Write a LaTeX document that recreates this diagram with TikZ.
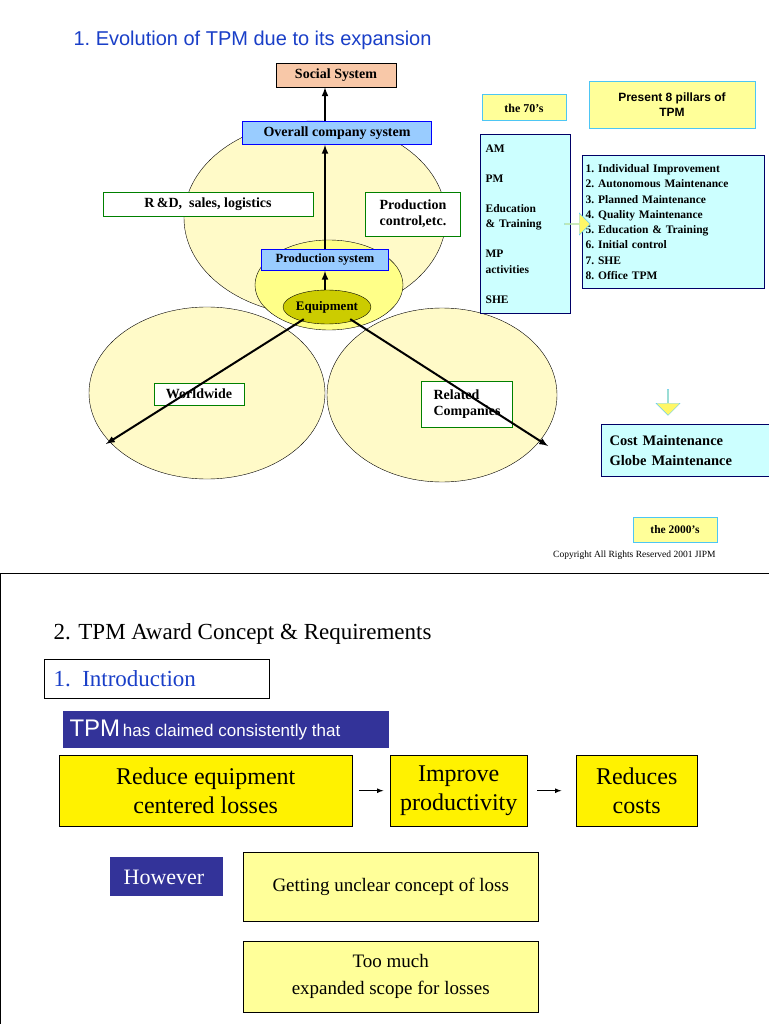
\documentclass[tikz,border=0pt]{standalone}
\usepackage{fontspec}
\setmainfont{Liberation Serif}
\newfontfamily\arialf{Liberation Sans}
\usetikzlibrary{shapes.arrows,shapes.geometric}
\definecolor{salmon}{HTML}{F8C8A8}
\definecolor{lyel}{HTML}{FFFAC8}
\definecolor{myel}{HTML}{FFFF88}
\definecolor{olive}{HTML}{CCCC00}
\definecolor{lblue}{HTML}{99CCFF}
\definecolor{lcyan}{HTML}{CCFFFF}
\definecolor{navy}{HTML}{333399}
\definecolor{dnavy}{HTML}{000066}
\definecolor{tblue}{HTML}{1A3FC8}
\definecolor{pyel}{HTML}{FFFF99}
\tikzset{
  lbl/.style={draw=#1, line width=0.8pt, font=\bfseries\fontsize{14}{16}\selectfont, align=center, inner sep=2pt},
  band/.style={fill=navy, text=white, inner sep=0pt, anchor=north west},
  ybox/.style={draw=black, fill=yellow, align=center, font=\fontsize{24}{29}\selectfont, inner sep=0pt, anchor=north west},
  pbox/.style={draw=black, fill=pyel, align=center, font=\fontsize{19}{26}\selectfont, inner sep=0pt, anchor=north west},
  fat/.style={single arrow, draw=cyan!60, fill=yellow!60, single arrow head extend=4pt, inner sep=0pt}
}
\begin{document}
\begin{tikzpicture}[x=1pt,y=-1pt]
  \useasboundingbox (0,0) rectangle (768,1024);
  \fill[white] (0,0) rectangle (768,1024);

  % upper slide
  \node[anchor=west, text=tblue, font=\arialf\fontsize{20}{24}\selectfont] (title1) at (70,40) {1.\ Evolution of TPM due to its expansion};

  \filldraw[fill=lyel, draw=black] (315,218) ellipse [x radius=131, y radius=97];
  \filldraw[fill=lyel, draw=black] (207,393) ellipse [x radius=118, y radius=86];
  \filldraw[fill=lyel, draw=black] (442,395) ellipse [x radius=115, y radius=87];
  \filldraw[fill=myel, draw=black] (329,285) ellipse [x radius=74, y radius=45];
  \node[ellipse, draw=black, fill=olive, minimum width=76pt, minimum height=34pt, inner sep=0pt, font=\bfseries\fontsize{13}{15}\selectfont] (equip) at (327,307) {Equipment};

  \node[lbl=black, fill=salmon, minimum width=120pt, minimum height=24pt] (social) at (336,75) {Social System};
  \node[lbl=blue, fill=lblue, minimum width=189pt, minimum height=23pt] (overall) at (337,133) {Overall company system};
  \node[lbl=blue, fill=lblue, minimum width=127pt, minimum height=21pt, font=\bfseries\fontsize{12.5}{15}\selectfont] (prodsys) at (325,260) {Production system};
  \node[lbl=green!50!black, fill=white, minimum width=210pt, minimum height=24pt] (rnd) at (208,204) {R\,\&D,\ \ sales, logistics};
  \node[lbl=green!50!black, fill=white, minimum width=95pt, minimum height=44pt] (prodctl) at (413,214) {Production\\control,etc.};
  \node[lbl=green!50!black, fill=white, minimum width=90pt, minimum height=22pt] (world) at (199,394) {Worldwide};
  \node[lbl=green!50!black, fill=white, minimum width=91pt, minimum height=46pt, align=left] (related) at (467,404) {Related\\Companies};

  \draw[-latex, line width=2pt] (prodsys.north |- overall.north) -- (prodsys.north |- social.south);
  \draw[-latex, line width=2pt] (prodsys.north) -- (prodsys.north |- overall.south);
  \draw[-latex, line width=2pt] (prodsys.south |- equip.north) -- (prodsys.south);
  \coordinate (wend) at (106,444);
  \coordinate (rend) at (548,446);
  \draw[-latex, line width=2pt] (equip.south west) ++(8,0) -- (wend);
  \draw[-latex, line width=2pt] (equip.south east) ++(-8,0) -- (rend);

  \node[draw=cyan!70, line width=1pt, fill=pyel, minimum width=84pt, minimum height=26pt, font=\bfseries\fontsize{12}{14}\selectfont] (seventies) at (524,108) {the 70's};
  \node[draw=cyan!70, line width=1pt, fill=pyel, minimum width=166pt, minimum height=47pt, align=center, font=\bfseries\arialf\fontsize{12}{15}\selectfont] (present) at (672,105) {Present 8 pillars of\\TPM};
  \node[draw=dnavy, line width=1.2pt, fill=lcyan, minimum width=90pt, minimum height=179pt, anchor=north west, align=left, text width=80pt, inner sep=5pt, font=\bfseries\fontsize{11.5}{15.5}\selectfont] (old) at (480,134)
    {AM\\[14.5pt]PM\\[14.5pt]Education\\\& Training\\[14.5pt]MP\\activities\\[14.5pt]SHE};
  \node[draw=dnavy, line width=1.2pt, fill=lcyan, minimum width=182pt, minimum height=133pt, anchor=north west, align=left, text width=176pt, inner sep=3pt, font=\bfseries\fontsize{11.5}{15.3}\selectfont] (pillars) at (582,155)
    {1.~Individual Improvement\\2.~Autonomous Maintenance\\3.~Planned Maintenance\\4.~Quality Maintenance\\5.~Education \& Training\\6.~Initial control\\7.~SHE\\8.~Office TPM};
  \node[fat, minimum height=26pt, minimum width=22pt] (arr1) at (577,224) {};
  \node[fat, rotate=-90, minimum height=26pt, minimum width=24pt] (arr2) at (668,402) {};
  \node[draw=dnavy, line width=1.2pt, fill=lcyan, minimum width=167pt, minimum height=52pt, anchor=north west, align=left, text width=155pt, inner sep=8pt, font=\bfseries\fontsize{14.5}{20}\selectfont] (cost) at (601,424) {Cost Maintenance\\Globe Maintenance};
  \node[draw=cyan!70, line width=1pt, fill=pyel, minimum width=84pt, minimum height=25pt, font=\bfseries\fontsize{11.5}{13}\selectfont] (twothousand) at (675,530) {the 2000's};
  \node[anchor=east, font=\fontsize{9.5}{11}\selectfont] (copy) at (719,555) {Copyright All Rights Reserved 2001 JIPM};

  % lower slide
  \draw[line width=1pt] (0,573) rectangle (790,1040);
  \node[anchor=west, font=\fontsize{23}{27}\selectfont] (title2) at (50,634) {2. TPM Award Concept \& Requirements};
  \node[draw=black, anchor=north west, minimum width=225pt, minimum height=39pt, inner sep=0pt] (intro) at (44,659) {};
  \node[anchor=west, text=tblue, font=\fontsize{23}{27}\selectfont] (introt) at (50,679) {1.\ \ Introduction};
  \node[band, minimum width=326pt, minimum height=37pt] (claim) at (63,711) {};
  \node[anchor=west, text=white, font=\arialf] (claimt) at (66,730) {{\fontsize{24}{28}\selectfont TPM} {\fontsize{17}{20}\selectfont has claimed consistently that}};

  \node[ybox, minimum width=293pt, minimum height=71pt] (reduce) at (59,755) {Reduce equipment\\centered losses};
  \node[ybox, minimum width=137pt, minimum height=71pt] (improve) at (390,755) {Improve\\productivity};
  \node[ybox, minimum width=121pt, minimum height=71pt] (costs) at (576,755) {Reduces\\costs};
  \draw[-latex, line width=1.2pt] (reduce.east) ++(7,0) -- ++(24,0);
  \draw[-latex, line width=1.2pt] (improve.east) ++(10,0) -- ++(24,0);

  \node[band, minimum width=113pt, minimum height=39pt] (however) at (110,857) {};
  \node[text=white, font=\fontsize{22}{24}\selectfont] (howevert) at (164,877) {However};
  \node[pbox, minimum width=295pt, minimum height=69pt] (unclear) at (243,852) {Getting unclear concept of loss};
  \node[pbox, minimum width=295pt, minimum height=71pt, font=\fontsize{19}{27}\selectfont] (scope) at (243,941) {Too much\\expanded scope for losses};
\end{tikzpicture}
\end{document}
